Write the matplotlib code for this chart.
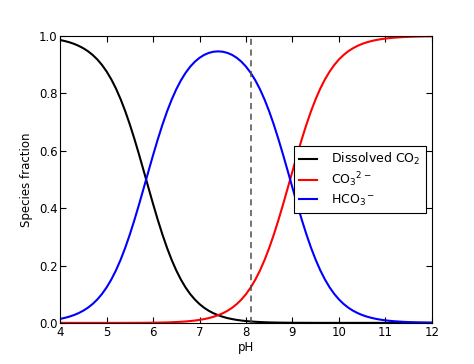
import matplotlib
matplotlib.use('Agg')
import matplotlib.pyplot as plt

# values, pH grid in 0.1 steps
ph = [round(4.0 + 0.1 * i, 1) for i in range(81)]

co2 = [0.9861, 0.9825, 0.9781, 0.9726, 0.9657, 0.9572, 0.9468, 0.9339, 0.9182, 0.8991,
       0.8762, 0.8490, 0.8171, 0.7801, 0.7381, 0.6912, 0.6400, 0.5854, 0.5286, 0.4710,
       0.4142, 0.3596, 0.3084, 0.2615, 0.2194, 0.1824, 0.1504, 0.1232, 0.1002, 0.0812,
       0.0654, 0.0525, 0.0420, 0.0335, 0.0267, 0.0212, 0.0167, 0.0132, 0.0104, 0.0081,
       0.0063, 0.0049, 0.0038, 0.0029, 0.0022, 0.0016, 0.0012, 0.0009, 0.0007, 0.0005,
       0.0003, 0.0002, 0.0002, 0.0001, 0.0001, 0.0, 0.0, 0.0, 0.0, 0.0,
       0.0, 0.0, 0.0, 0.0, 0.0, 0.0, 0.0, 0.0, 0.0, 0.0,
       0.0, 0.0, 0.0, 0.0, 0.0, 0.0, 0.0, 0.0, 0.0, 0.0, 0.0]

hco3 = [0.0139, 0.0175, 0.0219, 0.0274, 0.0343, 0.0428, 0.0532, 0.0661, 0.0818, 0.1009,
        0.1238, 0.1510, 0.1829, 0.2198, 0.2619, 0.3087, 0.3599, 0.4144, 0.4711, 0.5285,
        0.5851, 0.6394, 0.6904, 0.7369, 0.7784, 0.8147, 0.8458, 0.8719, 0.8934, 0.9107,
        0.9242, 0.9343, 0.9412, 0.9453, 0.9466, 0.9453, 0.9412, 0.9343, 0.9242, 0.9107,
        0.8934, 0.8719, 0.8458, 0.8147, 0.7784, 0.7369, 0.6904, 0.6394, 0.5851, 0.5285,
        0.4711, 0.4144, 0.3599, 0.3087, 0.2619, 0.2198, 0.1829, 0.1510, 0.1238, 0.1009,
        0.0818, 0.0661, 0.0532, 0.0428, 0.0343, 0.0274, 0.0219, 0.0175, 0.0139, 0.0111,
        0.0088, 0.0070, 0.0056, 0.0045, 0.0035, 0.0028, 0.0022, 0.0018, 0.0014, 0.0011, 0.0009]

co3 = [0.0, 0.0, 0.0, 0.0, 0.0, 0.0, 0.0, 0.0, 0.0, 0.0,
       0.0, 0.0, 0.0, 0.0, 0.0001, 0.0001, 0.0002, 0.0002, 0.0003, 0.0005,
       0.0007, 0.0009, 0.0012, 0.0016, 0.0022, 0.0029, 0.0038, 0.0049, 0.0063, 0.0081,
       0.0104, 0.0132, 0.0167, 0.0212, 0.0267, 0.0335, 0.0420, 0.0525, 0.0654, 0.0812,
       0.1002, 0.1232, 0.1504, 0.1824, 0.2194, 0.2615, 0.3084, 0.3596, 0.4142, 0.4710,
       0.5286, 0.5854, 0.6400, 0.6912, 0.7381, 0.7801, 0.8171, 0.8490, 0.8762, 0.8991,
       0.9182, 0.9339, 0.9468, 0.9572, 0.9657, 0.9726, 0.9781, 0.9825, 0.9861, 0.9889,
       0.9912, 0.9930, 0.9944, 0.9955, 0.9965, 0.9972, 0.9978, 0.9982, 0.9986, 0.9989, 0.9991]

ocean_ph = 8.1

plt.rcParams['font.family'] = 'DejaVu Sans'

fig = plt.figure(figsize=(4.74, 3.64), dpi=100)
ax = fig.add_axes([0.127, 0.113, 0.784, 0.788])

ax.plot(ph, co2, color='black', lw=1.5, label=r'Dissolved CO$_2$')
ax.plot(ph, co3, color='red', lw=1.5, label=r'CO$_3{}^{2-}$')
ax.plot(ph, hco3, color='blue', lw=1.5, label=r'HCO$_3{}^-$')
ax.axvline(ocean_ph, color='0.3', ls=(0, (4, 3)), lw=1.1)

ax.set_xlim(4, 12)
ax.set_ylim(0, 1)
ax.set_xticks(range(4, 13))
ax.set_yticks([0.0, 0.2, 0.4, 0.6, 0.8, 1.0])
ax.set_yticklabels(['0.0', '0.2', '0.4', '0.6', '0.8', '1.0'])
ax.tick_params(direction='in', top=True, right=True, labelsize=8.5, length=4, pad=2)
ax.set_xlabel('pH', fontsize=8.5, labelpad=2)
ax.set_ylabel('Species fraction', fontsize=8.5)

leg = ax.legend(loc='center right', fontsize=9, fancybox=False, framealpha=1,
                edgecolor='black', handlelength=1.45, handletextpad=1.1,
                borderaxespad=0.45, borderpad=0.45, labelspacing=0.25)
leg.get_frame().set_linewidth(0.8)

fig.savefig('out.png', dpi=100)
